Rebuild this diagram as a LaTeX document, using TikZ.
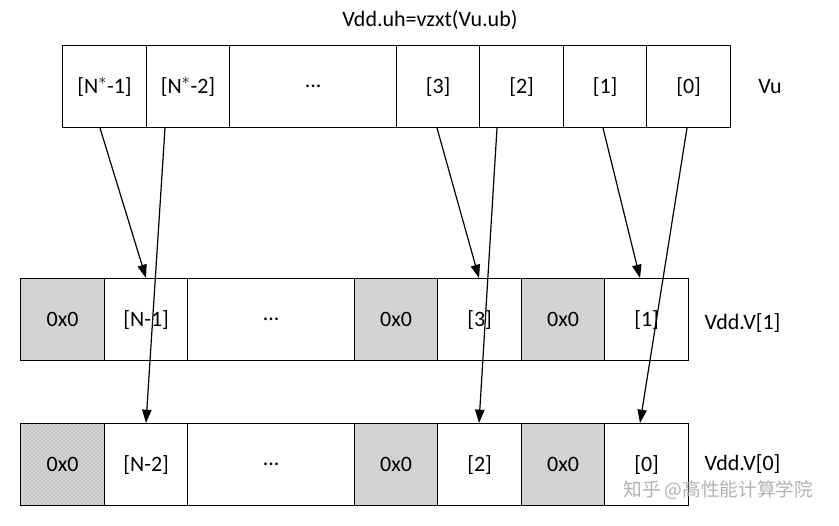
\documentclass[tikz,border=0pt]{standalone}
\usepackage{fontspec}
\setmainfont{Carlito}
\newfontfamily\cjk{Noto Sans CJK SC}
\usetikzlibrary{patterns,arrows.meta}
\definecolor{cellgray}{RGB}{211,211,211}
\begin{document}
\begin{tikzpicture}[x=0.75pt,y=-0.75pt,font=\fontsize{16.5}{19}\selectfont,
  cell/.style={draw,line width=0.9pt,anchor=north west,minimum height=61.5pt,inner sep=0pt},
  arr/.style={-{Triangle[length=10pt,width=7pt]},line width=0.9pt}]
\useasboundingbox (0,0) rectangle (839,525);
\node at (430,20) {Vdd.uh=vzxt(Vu.ub)};
% top row
\foreach \n/\x/\w/\t in {a/62/84/{[N$^{*}$-1]},b/146/83/{[N$^{*}$-2]},c/229/167/{...},d/396/83/{[3]},e/479/84/{[2]},f/563/83/{[1]},g/646/84/{[0]}}
  \node[cell,minimum width=\w*0.75pt] (t\n) at (\x,45) {\t};
\node at (770,87) {Vu};
% middle row
\foreach \n/\x/\w/\t/\f in {a/20/84/0x0/cellgray,b/104/83/{[N-1]}/white,c/187/167/{...}/white,d/354/83/0x0/cellgray,e/437/84/{[3]}/white,f/521/83/0x0/cellgray,g/604/84/{[1]}/white}
  \node[cell,fill=\f,minimum width=\w*0.75pt] (m\n) at (\x,278) {\t};
\node[anchor=west] at (700,323) {Vdd.V[1]};
% bottom row
\fill[cellgray] (20,423) rectangle (104,506);
\fill[pattern=crosshatch dots,pattern color=gray!70] (20,423) rectangle (104,506);
\foreach \n/\x/\w/\t/\f in {a/20/84/0x0/none,b/104/83/{[N-2]}/white,c/187/167/{...}/white,d/354/83/0x0/cellgray,e/437/84/{[2]}/white,f/521/83/0x0/cellgray,g/604/84/{[0]}/white}
  \node[cell,fill=\f,minimum width=\w*0.75pt] (b\n) at (\x,423) {\t};
\node[anchor=west] at (700,464) {Vdd.V[0]};
% arrows
\coordinate (s1) at (100,128); \coordinate (e1) at (146,278);
\coordinate (s2) at (165,128); \coordinate (e2) at (146,423);
\coordinate (s3) at (437,128); \coordinate (e3) at (479,278);
\coordinate (s4) at (497,128); \coordinate (e4) at (479,423);
\coordinate (s5) at (603,128); \coordinate (e5) at (640,278);
\coordinate (s6) at (687,128); \coordinate (e6) at (640,423);
\foreach \i in {1,...,6} \draw[arr] (s\i) -- (e\i);
\node[text=gray!60,font=\cjk\fontsize{14}{16}\selectfont,anchor=east] (wm) at (818,490) {知乎 @高性能计算学院};
\end{tikzpicture}
\end{document}
